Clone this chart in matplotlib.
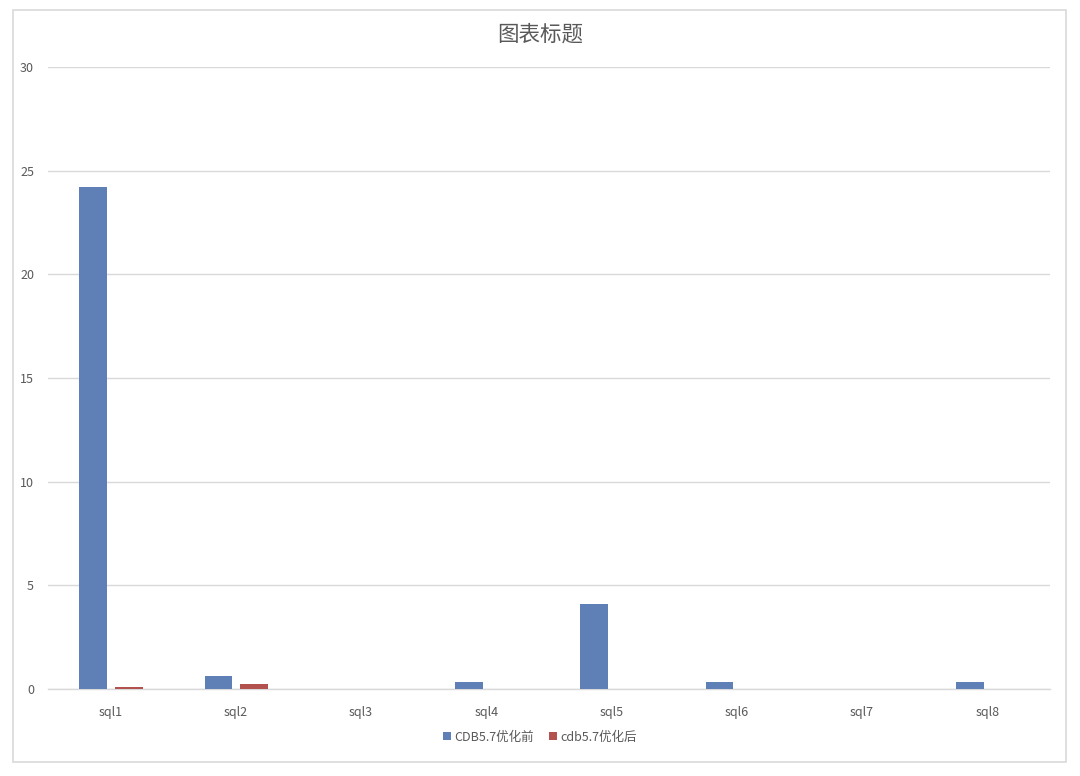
import matplotlib
matplotlib.use("Agg")
import matplotlib.pyplot as plt
import numpy as np
from matplotlib.patches import Rectangle

plt.rcParams['font.family'] = ['Noto Sans CJK SC', 'DejaVu Sans']

categories = ["sql1", "sql2", "sql3", "sql4", "sql5", "sql6", "sql7", "sql8"]
before = [24.2, 0.63, 0.0, 0.32, 4.08, 0.34, 0.0, 0.33]
after = [0.12, 0.26, 0.0, 0.0, 0.0, 0.0, 0.0, 0.0]
series_names = ["CDB5.7优化前", "cdb5.7优化后"]
title = "图表标题"

W, H = 1080, 776
fig = plt.figure(figsize=(W / 100, H / 100), dpi=100)
fig.patches.append(Rectangle((13 / W, 1 - 762 / H), (1066 - 13) / W, (762 - 10) / H,
                             transform=fig.transFigure, fill=False,
                             edgecolor="#D9D9D9", linewidth=1.2))

ax = fig.add_axes([48 / W, 1 - 689 / H, (1050 - 48) / W, (689 - 67) / H])
x = np.arange(len(categories))
bw = 0.22
ax.bar(x - 0.14, before, bw, color="#5F7FB7", label=series_names[0], zorder=3)
ax.bar(x + 0.145, after, bw, color="#B2514E", label=series_names[1], zorder=3)

ax.set_xlim(-0.5, len(categories) - 0.5)
ax.set_ylim(0, 30)
ax.set_yticks([0, 5, 10, 15, 20, 25, 30])
ax.set_xticks(x)
ax.set_xticklabels(categories)
ax.tick_params(axis="both", length=0, labelsize=9, colors="#595959")
ax.tick_params(axis="y", pad=10)
ax.tick_params(axis="x", pad=12)
ax.grid(axis="y", color="#D9D9D9", linewidth=1, zorder=0)
for s in ["top", "right", "left"]:
    ax.spines[s].set_visible(False)
ax.spines["bottom"].set_color("#D9D9D9")
ax.spines["bottom"].set_linewidth(1)

fig.text(540 / W, 1 - 35 / H, title, ha="center", va="center", fontsize=15.5, color="#595959")

leg = fig.legend(loc="center", bbox_to_anchor=(540 / W, 1 - 737 / H), ncol=2, frameon=False,
                 fontsize=9, handlelength=0.6, handleheight=0.6, handletextpad=0.3,
                 columnspacing=1.2)
for t in leg.get_texts():
    t.set_color("#595959")

fig.savefig("out.png", dpi=100)
